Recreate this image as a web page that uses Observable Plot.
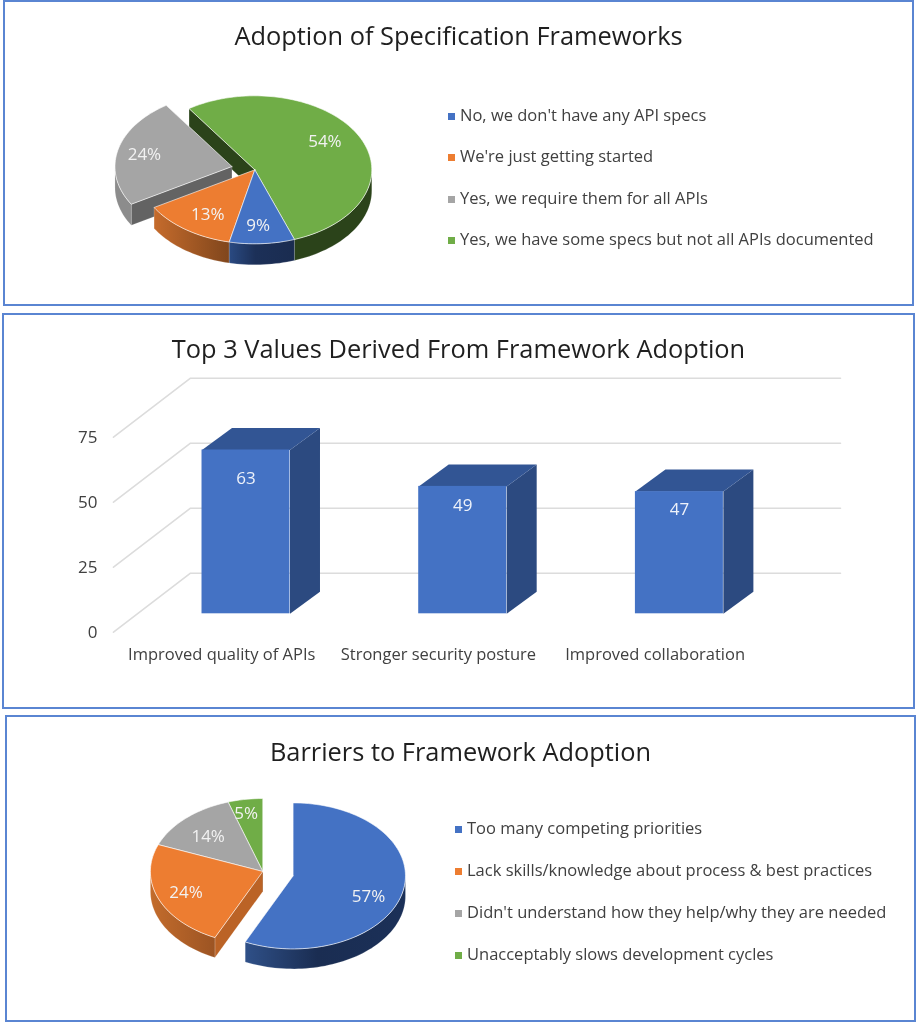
<!DOCTYPE html>
<html><head><meta charset="utf-8">
<script src="https://cdn.jsdelivr.net/npm/d3@7"></script>
<script src="https://cdn.jsdelivr.net/npm/@observablehq/plot@0.6"></script>
<style>
html,body{margin:0;padding:0;background:#fff;}
#page{position:relative;width:917px;height:1024px;overflow:hidden;font-family:"Open Sans",sans-serif;filter:blur(.4px);}
.panel{position:absolute;box-sizing:border-box;border:2px solid #5a85d2;}
.title{position:absolute;left:0;width:917px;text-align:center;color:#1f1f1f;white-space:nowrap;line-height:1;}
.holder{position:absolute;left:0;}
.holder svg{display:block;overflow:visible;background:transparent;}
.legend{position:absolute;color:#404040;white-space:nowrap;line-height:1;}
.legend i{position:absolute;width:7px;height:7px;}
.legend span{position:absolute;}
</style></head><body>
<svg width="0" height="0" style="position:absolute"><defs>
<linearGradient id="orangeRim1" x1="0" x2="1" y1="0" y2="0"><stop offset="0" stop-color="#c56b2c"/><stop offset="1" stop-color="#80461c"/></linearGradient>
<linearGradient id="blueRim1" x1="0" x2="1" y1="0" y2="0"><stop offset="0" stop-color="#2a4a82"/><stop offset=".4" stop-color="#1c3058"/><stop offset="1" stop-color="#1a2c50"/></linearGradient>
<linearGradient id="orangeRim3" x1="0" x2="1" y1="0" y2="0"><stop offset="0" stop-color="#c36c2c"/><stop offset="1" stop-color="#9c5423"/></linearGradient>
<linearGradient id="blueRim3" x1="0" x2="1" y1="0" y2="0"><stop offset="0" stop-color="#2f5088"/><stop offset=".45" stop-color="#1a2d52"/><stop offset="1" stop-color="#1b3058"/></linearGradient>
</defs></svg>
<div id="page"></div>
<script>
// ---- data ----
const adoptionTitle = "Adoption of Specification Frameworks";
const adoptionLabels = ["No, we don't have any API specs","We're just getting started","Yes, we require them for all APIs","Yes, we have some specs but not all APIs documented"];
const adoptionValues = [9,13,24,54];

const valuesTitle = "Top 3 Values Derived From Framework Adoption";
const valuesCategories = ["Improved quality of APIs","Stronger security posture","Improved collaboration"];
const valuesNumbers = [63,49,47];
const valuesTicks = [0,25,50,75];

const barriersTitle = "Barriers to Framework Adoption";
const barriersLabels = ["Too many competing priorities","Lack skills/knowledge about process & best practices","Didn't understand how they help/why they are needed","Unacceptably slows development cycles"];
const barriersValues = [57,24,14,5];

// ---- styling ----
const sliceColors = ["#4472c4","#ed7d31","#a5a5a5","#70ad47"];
const page = document.getElementById("page");
function add(cls, css, html){const d=document.createElement("div");d.className=cls;d.style.cssText=css;if(html!=null)d.textContent=html;page.appendChild(d);return d;}

[[3,0,911,306],[2,313,913,396],[5,715,911,307]].forEach(([l,t,w,h])=>add("panel",`left:${l}px;top:${t}px;width:${w}px;height:${h}px`));

function title(text,top,size,left){add("title",`top:${top}px;font-size:${size}px;margin-left:${left}px`,text);}
title(adoptionTitle,23,25.4,0);
title(valuesTitle,336,25.4,0);
title(barriersTitle,739,25.4,2);

function legend(labels,swatchX,textX,rows,size){
  labels.forEach((t,i)=>{
    const d=add("legend",`left:0;top:${rows[i]}px;`);
    const s=document.createElement("i");s.style.cssText=`left:${swatchX}px;top:-3px;background:${sliceColors[i]}`;d.appendChild(s);
    const x=document.createElement("span");x.style.cssText=`left:${textX}px;top:-${size*.52}px;font-size:${size}px`;x.textContent=t;d.appendChild(x);
  });
}
legend(adoptionLabels,448,460,[116,157,199,240],16.5);
legend(barriersLabels,455,467,[829,871,913,955],16.5);

// ---- pies ----
const rad=a=>a*Math.PI/180;
function pie(c){
  const marks=[];
  let acc=c.start;
  const slices=c.values.map((v,i)=>{
    const a0=acc,a1=acc+v*3.6;acc=a1;
    const mid=(a0+a1)/2,e=c.explode[i];
    return {i,a0,a1,mid,ox:Math.sin(rad(mid))*e,oy:-Math.cos(rad(mid))*e};
  });
  const polar=(s,a,r=1)=>[s.ox+r*Math.sin(rad(a)),s.oy-r*Math.cos(rad(a))];
  const arc=(s,a,b)=>{const n=Math.max(2,Math.ceil((b-a)/2));return d3.range(n+1).map(k=>polar(s,a+(b-a)*k/n));};
  const poly=(pts,fill,stroke,sw)=>Plot.line(pts.map(p=>({x:p[0],y:p[1]})),{x:"x",y:"y",fill,stroke:stroke||"none",strokeWidth:sw||0,strokeLinejoin:"round"});
  const d=c.depth/c.ry;
  for(const idx of c.order){
    const s=slices[idx],apex=[s.ox,s.oy];
    const wall=a=>{const p=polar(s,a);return [apex,p,[p[0],p[1]+d],[apex[0],apex[1]+d],apex];};
    if(Math.sin(rad(s.a0))<-1e-9) marks.push(poly(wall(s.a0),c.wall[idx],"rgba(255,255,255,.25)",.6));
    if(Math.sin(rad(s.a1))>1e-9) marks.push(poly(wall(s.a1),c.wall[idx],"rgba(255,255,255,.25)",.6));
    for(const k of [-360,0,360]){
      const lo=Math.max(s.a0,90+k),hi=Math.min(s.a1,270+k);
      if(lo<hi){
        const top=arc(s,lo,hi);
        const bottom=top.map(p=>[p[0],p[1]+d]).reverse();
        marks.push(poly([...top,...bottom,top[0]],c.rim[idx],"rgba(255,255,255,.3)",.6));
      }
    }
    marks.push(poly([apex,...arc(s,s.a0,s.a1),apex],sliceColors[idx],"rgba(255,255,255,.6)",1));
  }
  const labels=slices.map(s=>{
    const p=polar(s,s.mid+c.labelTurn[s.i],c.labelRadius[s.i]);
    return {x:p[0],y:p[1],t:c.values[s.i]+"%"};
  });
  marks.push(Plot.text(labels,{x:"x",y:"y",text:"t",fill:"#f2f2f2",fontSize:17,fontFamily:"Open Sans"}));
  const W=c.width,H=c.height;
  const plot=Plot.plot({
    width:W,height:H,margin:0,
    x:{domain:[-c.cx/c.rx,(W-c.cx)/c.rx],range:[0,W],axis:null},
    y:{domain:[-c.cy/c.ry,(H-c.cy)/c.ry],range:[0,H],axis:null},
    marks
  });
  const h=add("holder",`top:${c.top}px`);h.appendChild(plot);
}
pie({top:0,width:430,height:300,cx:254.3,cy:169.3,rx:117,ry:74,depth:21,start:160.2,
  values:adoptionValues,explode:[0,0,.2,0],order:[3,2,1,0],
  wall:["#1a2c50","#a85c28","#636363","#2b431a"],
  rim:["url(#blueRim1)","url(#orangeRim1)","#8c8c8c","#2b431a"],
  labelRadius:[.75,.725,.765,.713],labelTurn:[1.4,-2.4,-.6,-5.8]});
pie({top:720,width:440,height:295,cx:262.3,cy:151,rx:112.4,ry:73,depth:20,start:0,
  values:barriersValues,explode:[.276,0,0,0],order:[3,2,1,0],
  wall:["#1a2d52","#bb6326","#7c7c7c","#4f7a33"],
  rim:["url(#blueRim3)","url(#orangeRim3)","#7c7c7c","#4f7a33"],
  labelRadius:[.727,.739,.685,.804],labelTurn:[9.9,-1,-2,-1.6]});

// ---- 3D bars ----
const catPx=216.7, unitPx=2.6, zeroX=245.5, zeroY=613.3-314;
const barHalf=.203, depthX=30/catPx, depthY=22/unitPx;
const wallFrontX=(113-zeroX)/catPx, wallBackX=(190-zeroX)/catPx, wallRightX=(840-zeroX)/catPx;
const frontDrop=18.4/unitPx, backRise=40.6/unitPx;
const barW=917, barH=394, barML=100, barMR=57, barMT=40, barMB=68;
const grid=valuesTicks.map(v=>[{x:wallFrontX,y:v-frontDrop},{x:wallBackX,y:v+backRise},{x:wallRightX,y:v+backRise}]);
const barMarks=[
  ...grid.map(g=>Plot.line(g,{x:"x",y:"y",stroke:"#dcdcdc",strokeWidth:1.6})),
];
valuesNumbers.forEach((v,i)=>{
  const l=i-barHalf,r=i+barHalf;
  barMarks.push(Plot.line([{x:r,y:0},{x:r+depthX,y:depthY},{x:r+depthX,y:v+depthY},{x:r,y:v},{x:r,y:0}],{x:"x",y:"y",fill:"#2c4a80",stroke:"none"}));
  barMarks.push(Plot.line([{x:l,y:v},{x:l+depthX,y:v+depthY},{x:r+depthX,y:v+depthY},{x:r,y:v},{x:l,y:v}],{x:"x",y:"y",fill:"#325594",stroke:"none"}));
});
barMarks.push(Plot.rectY(valuesNumbers.map((v,i)=>({i,v})),{x1:d=>d.i-barHalf,x2:d=>d.i+barHalf,y1:0,y2:"v",fill:"#4472c4"}));
barMarks.push(Plot.text(valuesNumbers.map((v,i)=>({i,v})),{x:"i",y:d=>d.v*.75+4.75,text:d=>String(d.v),fill:"#eef2fa",fontSize:17,fontFamily:"Open Sans"}));
barMarks.push(Plot.axisY(valuesTicks,{y:d=>d-frontDrop,anchor:"left",tickSize:0,tickPadding:3,fontSize:17,fontFamily:"Open Sans",color:"#404040",label:null,text:d=>String(d)}));
barMarks.push(Plot.axisX(d3.range(valuesCategories.length),{x:d=>d-.112,anchor:"bottom",tickSize:0,tickPadding:8,fontSize:16.5,fontFamily:"Open Sans",color:"#404040",label:null,text:d=>valuesCategories[d]}));
const barPlot=Plot.plot({
  width:barW,height:barH,marginLeft:barML,marginRight:barMR,marginTop:barMT,marginBottom:barMB,
  x:{domain:[(barML-zeroX)/catPx,(barW-barMR-zeroX)/catPx],axis:null},
  y:{domain:[(zeroY-(barH-barMB))/unitPx,(zeroY-barMT)/unitPx],axis:null},
  marks:barMarks
});
add("holder","top:314px").appendChild(barPlot);
</script>
</body></html>
